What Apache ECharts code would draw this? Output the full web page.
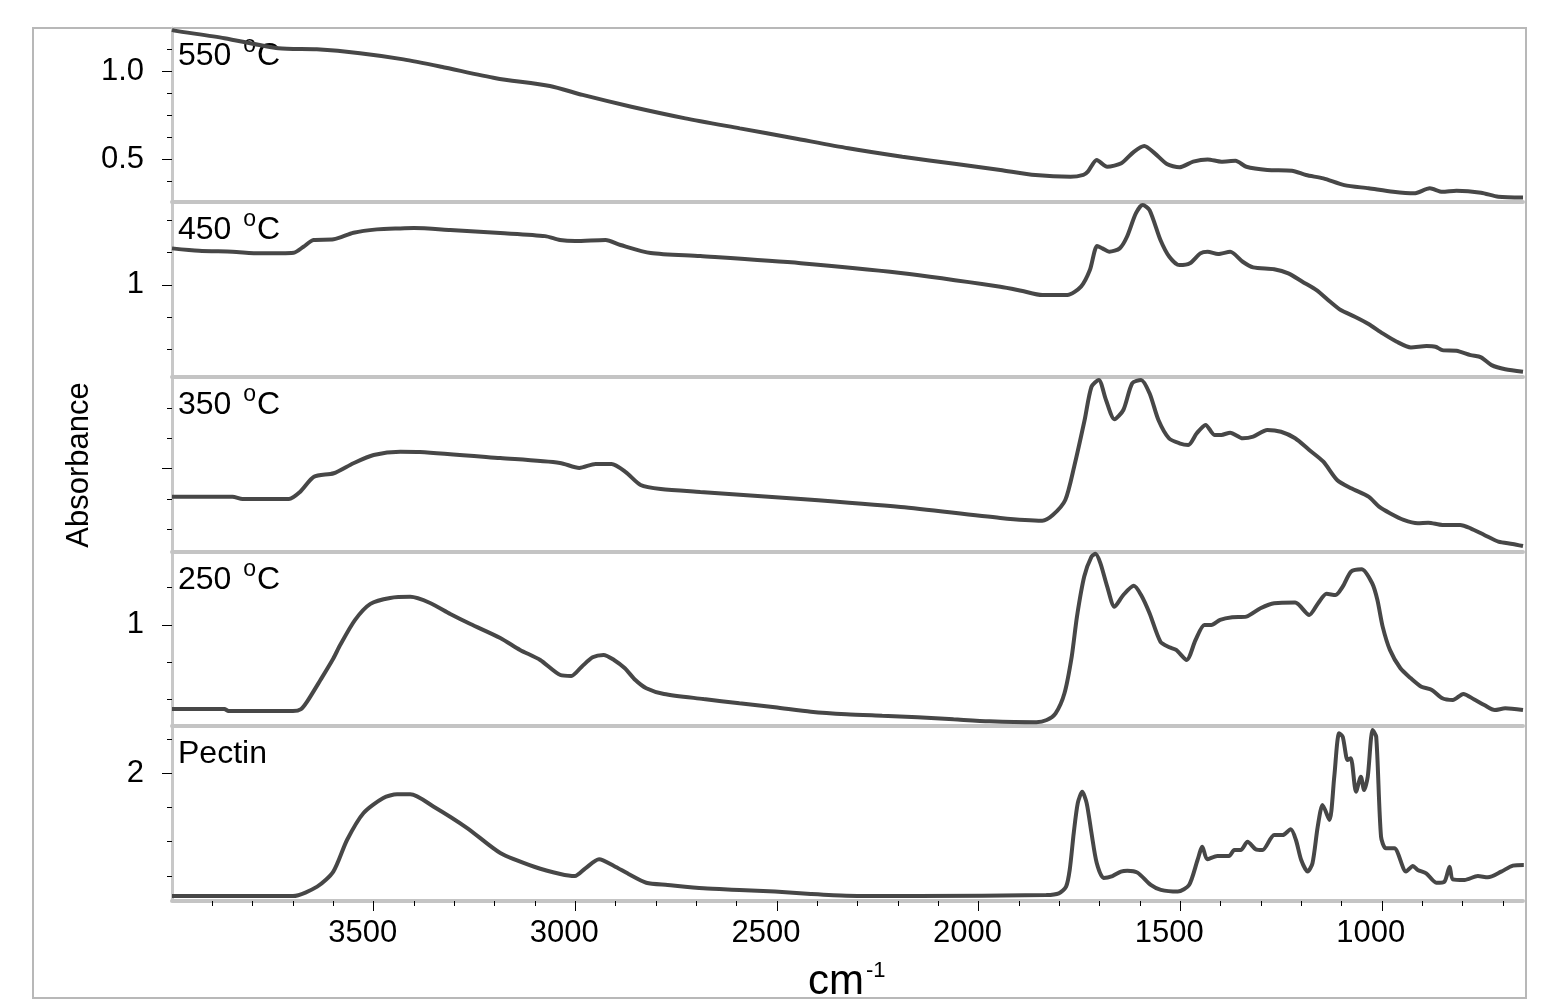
<!DOCTYPE html>
<html><head><meta charset="utf-8">
<script src="https://cdn.jsdelivr.net/npm/echarts@6/dist/echarts.min.js"></script>
<style>html,body{margin:0;padding:0;background:#fff}#c{width:1548px;height:1001px}</style>
</head><body><div id="c"></div>
<script>
// ---------- data ----------
const sampleNames = ['550', '450', '350', '250', 'Pectin'];
const sampleUnits = ['C', 'C', 'C', 'C', ''];
const xMajorTicks = [1000, 1500, 2000, 2500, 3000, 3500];
const xMinorTicks = [700, 800, 900, 1100, 1200, 1300, 1400, 1600, 1700, 1800, 1900, 2100, 2200, 2300, 2400,
  2600, 2700, 2800, 2900, 3100, 3200, 3300, 3400, 3600, 3700, 3800, 3900];
const yMajorTicks = [[0.5, 1.0], [1], [1], [1], [2]];
const yMinorTicks = [[0.375, 0.625, 0.75, 0.875, 1.125], [0.6, 0.8, 1.2, 1.4], [0.6, 0.8, 1.2, 1.4], [0.6, 0.8, 1.2], [1.4, 1.6, 1.8, 2.2]];
const yMinVals = [0.256, 0.427, 0.452, 0.457, 1.253];
const yMaxVals = [1.244, 1.514, 1.603, 1.392, 2.277];

const s550 = [[4000,1.233],[3994,1.229],[3870,1.186],[3736,1.129],[3641,1.123],[3534,1.101],[3426,1.066],[3332,1.024],[3197,0.959],[3063,0.915],[2982,0.864],[2861,0.797],[2727,0.731],[2592,0.674],[2458,0.618],[2323,0.561],[2189,0.513],[2055,0.472],[1946,0.438],[1859,0.409],[1772,0.399],[1740,0.410],[1729,0.428],[1707,0.494],[1681,0.456],[1646,0.476],[1615,0.541],[1589,0.574],[1563,0.532],[1533,0.472],[1502,0.453],[1468,0.485],[1432,0.498],[1398,0.485],[1363,0.490],[1336,0.456],[1284,0.438],[1223,0.434],[1188,0.409],[1145,0.390],[1093,0.352],[1033,0.334],[972,0.314],[920,0.305],[881,0.334],[850,0.314],[815,0.320],[754,0.309],[711,0.286],[650,0.282]];
const s450 = [[4000,1.226],[3933,1.211],[3850,1.205],[3781,1.195],[3698,1.199],[3674,1.236],[3649,1.278],[3599,1.282],[3550,1.323],[3492,1.344],[3434,1.350],[3400,1.352],[3310,1.340],[3186,1.321],[3075,1.302],[3038,1.278],[3000,1.271],[2925,1.278],[2888,1.247],[2813,1.197],[2690,1.178],[2441,1.134],[2193,1.073],[1946,0.988],[1894,0.963],[1842,0.936],[1780,0.936],[1746,0.988],[1724,1.091],[1706,1.240],[1693,1.226],[1676,1.205],[1650,1.226],[1632,1.298],[1610,1.443],[1593,1.495],[1576,1.464],[1549,1.278],[1527,1.174],[1502,1.122],[1476,1.133],[1450,1.195],[1432,1.205],[1406,1.191],[1376,1.205],[1345,1.143],[1319,1.108],[1267,1.096],[1232,1.071],[1197,1.019],[1162,0.967],[1128,0.894],[1102,0.843],[1067,0.801],[1033,0.756],[998,0.698],[963,0.646],[928,0.611],[889,0.619],[867,0.615],[850,0.594],[815,0.590],[780,0.563],[754,0.549],[728,0.501],[694,0.475],[650,0.460]];
const s350 = [[4000,0.816],[3850,0.816],[3825,0.801],[3710,0.801],[3682,0.849],[3648,0.947],[3599,0.970],[3550,1.036],[3500,1.090],[3434,1.112],[3385,1.110],[3186,1.070],[3038,1.038],[2990,1.005],[2950,1.031],[2910,1.031],[2875,0.978],[2838,0.893],[2788,0.866],[2690,0.847],[2441,0.801],[2193,0.748],[1946,0.676],[1842,0.658],[1816,0.695],[1785,0.794],[1763,1.013],[1737,1.320],[1720,1.539],[1702,1.584],[1684,1.452],[1663,1.325],[1641,1.386],[1619,1.562],[1597,1.584],[1576,1.496],[1554,1.320],[1528,1.200],[1502,1.167],[1480,1.156],[1459,1.233],[1437,1.288],[1415,1.222],[1398,1.222],[1376,1.237],[1345,1.200],[1319,1.211],[1284,1.255],[1250,1.243],[1215,1.200],[1180,1.123],[1145,1.046],[1111,0.926],[1076,0.871],[1033,0.816],[1007,0.750],[980,0.707],[946,0.663],[911,0.641],[885,0.645],[850,0.630],[806,0.630],[780,0.608],[746,0.564],[711,0.520],[676,0.505],[650,0.491]];
const s250 = [[4000,0.548],[3870,0.548],[3860,0.538],[3700,0.538],[3680,0.548],[3665,0.588],[3632,0.704],[3600,0.820],[3583,0.892],[3546,1.027],[3508,1.113],[3459,1.145],[3409,1.151],[3360,1.118],[3310,1.059],[3260,1.005],[3186,0.930],[3137,0.866],[3087,0.812],[3037,0.731],[3010,0.726],[2984,0.776],[2957,0.826],[2930,0.839],[2904,0.812],[2877,0.767],[2851,0.704],[2824,0.660],[2780,0.629],[2682,0.602],[2593,0.579],[2505,0.558],[2416,0.534],[2328,0.520],[2239,0.512],[2151,0.504],[2062,0.493],[1973,0.482],[1857,0.477],[1831,0.489],[1809,0.525],[1787,0.633],[1769,0.830],[1756,1.045],[1738,1.260],[1720,1.367],[1710,1.382],[1698,1.332],[1681,1.206],[1663,1.098],[1641,1.161],[1615,1.210],[1597,1.161],[1576,1.063],[1549,0.910],[1527,0.880],[1510,0.866],[1484,0.812],[1462,0.919],[1440,1.000],[1423,1.000],[1401,1.027],[1371,1.041],[1336,1.045],[1301,1.090],[1267,1.117],[1215,1.120],[1180,1.054],[1158,1.117],[1137,1.167],[1115,1.161],[1097,1.206],[1076,1.287],[1050,1.299],[1024,1.224],[1011,1.134],[998,0.991],[980,0.866],[954,0.767],[928,0.713],[902,0.668],[876,0.651],[850,0.606],[824,0.597],[798,0.629],[772,0.601],[746,0.570],[720,0.543],[694,0.552],[650,0.543]];
const pectin = [[4000,1.282],[3700,1.282],[3640,1.337],[3600,1.425],[3566,1.610],[3525,1.768],[3476,1.856],[3442,1.877],[3409,1.877],[3351,1.805],[3268,1.680],[3186,1.534],[3100,1.452],[3037,1.411],[3001,1.399],[2975,1.444],[2941,1.497],[2904,1.458],[2868,1.411],[2824,1.360],[2771,1.347],[2682,1.327],[2593,1.318],[2505,1.308],[2416,1.294],[2328,1.284],[2151,1.282],[1832,1.288],[1801,1.298],[1783,1.337],[1774,1.435],[1764,1.651],[1754,1.826],[1743,1.892],[1732,1.826],[1720,1.651],[1707,1.475],[1690,1.388],[1668,1.399],[1647,1.425],[1631,1.430],[1606,1.419],[1573,1.347],[1548,1.318],[1506,1.308],[1478,1.347],[1457,1.493],[1445,1.571],[1433,1.497],[1408,1.516],[1379,1.516],[1366,1.551],[1350,1.551],[1333,1.600],[1313,1.556],[1296,1.551],[1267,1.639],[1246,1.639],[1226,1.673],[1213,1.610],[1200,1.493],[1184,1.425],[1172,1.474],[1159,1.688],[1147,1.815],[1130,1.727],[1118,1.980],[1106,2.234],[1097,2.214],[1085,2.078],[1077,2.088],[1064,1.892],[1052,1.980],[1044,1.902],[1035,1.980],[1023,2.253],[1014,2.214],[1002,1.629],[990,1.561],[969,1.561],[940,1.425],[923,1.458],[911,1.435],[890,1.415],[865,1.360],[845,1.366],[832,1.454],[824,1.380],[795,1.376],[762,1.399],[737,1.392],[704,1.425],[675,1.460],[648,1.464]];
const seriesData = [s550, s450, s350, s250, pectin];

// ---------- layout ----------
const FONT = "'Liberation Sans', Arial, Helvetica, sans-serif";
const tops = [28, 202, 377, 552, 726];
const heights = [174, 175, 175, 174, 175];
const showYLabel = [true, true, false, true, true];

const grids = tops.map((t, i) => ({ left: 172, right: 25, top: t, height: heights[i] }));

const xAxes = [];
for (let i = 0; i < 5; i++) {
  xAxes.push({
    gridIndex: i, type: 'value', position: 'bottom', min: 650, max: 4000, inverse: true,
    axisLine: { show: true, onZero: false, lineStyle: { color: '#c4c4c4', width: 4 } },
    axisTick: { show: i === 4, length: 10, customValues: xMajorTicks, lineStyle: { color: '#000', width: 1 } },
    axisLabel: { show: i === 4, customValues: xMajorTicks, margin: 17, fontSize: 31, color: '#000', fontFamily: FONT,
      padding: [0, 22, 0, 0], formatter: v => String(Math.round(v)) },
    splitLine: { show: false }
  });
}
xAxes.push({
  gridIndex: 4, type: 'value', position: 'bottom', min: 650, max: 4000, inverse: true,
  axisLine: { show: false, onZero: false },
  axisTick: { show: true, length: 5, customValues: xMinorTicks, lineStyle: { color: '#000', width: 1 } },
  axisLabel: { show: false }, splitLine: { show: false }
});

const yAxes = [];
for (let i = 0; i < 5; i++) {
  yAxes.push({
    gridIndex: i, type: 'value', position: 'left', min: yMinVals[i], max: yMaxVals[i],
    axisLine: { show: true, onZero: false, lineStyle: { color: '#c8c8c8', width: 3 } },
    axisTick: { show: true, length: 10, customValues: yMajorTicks[i], lineStyle: { color: '#000', width: 1 } },
    axisLabel: {
      show: showYLabel[i], customValues: yMajorTicks[i], margin: 28, fontSize: 31, color: '#000', fontFamily: FONT,
      formatter: i === 0 ? (v => Number(v).toFixed(1)) : (v => String(v))
    },
    splitLine: { show: false }
  });
  yAxes.push({
    gridIndex: i, type: 'value', position: 'left', min: yMinVals[i], max: yMaxVals[i],
    axisLine: { show: false, onZero: false },
    axisTick: { show: true, length: 5, customValues: yMinorTicks[i], lineStyle: { color: '#000', width: 1 } },
    axisLabel: { show: false }, splitLine: { show: false }
  });
}

const series = seriesData.map((d, i) => ({
  type: 'line', name: sampleNames[i], xAxisIndex: i, yAxisIndex: 2 * i, data: d,
  showSymbol: false, smooth: 0.25, lineStyle: { color: '#474747', width: 4 }, silent: true, animation: false
}));

const measureCtx = document.createElement('canvas').getContext('2d');
function textWidth(t, f) { measureCtx.font = f; return measureCtx.measureText(t).width; }

const graphics = [
  { type: 'rect', z: -1, shape: { x: 33, y: 28, width: 1493, height: 970 }, style: { fill: 'none', stroke: '#b8b8b8', lineWidth: 2 } },
  { type: 'text', x: 79, y: 465, rotation: Math.PI / 2, style: { text: 'Absorbance', x: 0, y: 0, align: 'center', verticalAlign: 'middle', font: '31px ' + FONT, fill: '#000' } },
  { type: 'text', style: { text: 'cm', x: 808, y: 982, align: 'left', verticalAlign: 'middle', font: '42px ' + FONT, fill: '#000' } },
  { type: 'text', style: { text: '-1', x: 866, y: 971, align: 'left', verticalAlign: 'middle', font: '22px ' + FONT, fill: '#000' } }
];
const mainFont = '32px ' + FONT, supFont = '23px ' + FONT;
sampleNames.forEach((t, i) => {
  const y = tops[i] + 28;
  if (sampleUnits[i]) {
    const w1 = textWidth(t + ' ', mainFont) + 3;
    const w2 = textWidth('o', supFont);
    graphics.push({ type: 'text', style: { text: t, x: 178, y: y, align: 'left', verticalAlign: 'middle', font: mainFont, fill: '#000' } });
    graphics.push({ type: 'text', style: { text: 'o', x: 178 + w1, y: y - 10, align: 'left', verticalAlign: 'middle', font: supFont, fill: '#000' } });
    graphics.push({ type: 'text', style: { text: sampleUnits[i], x: 178 + w1 + w2 + 1, y: y, align: 'left', verticalAlign: 'middle', font: mainFont, fill: '#000' } });
  } else {
    graphics.push({ type: 'text', style: { text: t, x: 178, y: y, align: 'left', verticalAlign: 'middle', font: mainFont, fill: '#000' } });
  }
});

const chart = echarts.init(document.getElementById('c'), null, { renderer: 'canvas' });
chart.setOption({
  animation: false,
  backgroundColor: '#fff',
  grid: grids,
  xAxis: xAxes,
  yAxis: yAxes,
  series: series,
  graphic: graphics
});
</script>
</body></html>
